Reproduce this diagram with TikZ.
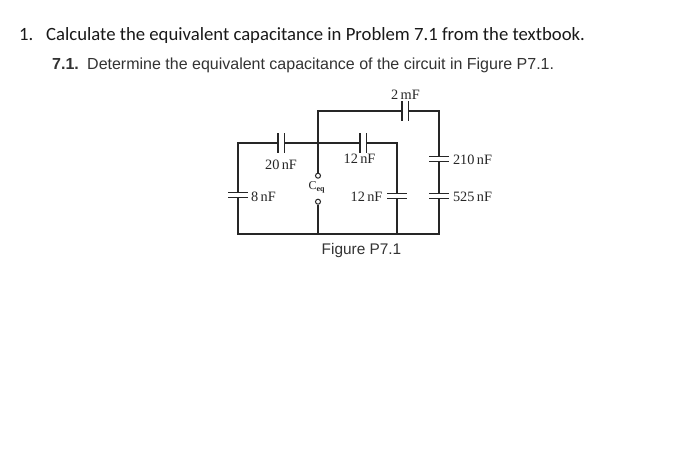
\documentclass[tikz,border=0pt]{standalone}
\usepackage{fontspec}
\setmainfont{Liberation Serif}
\newfontfamily\bodyfont{Carlito}
\newfontfamily\helv{Liberation Sans}
\tikzset{
  wire/.style={line width=1.4pt,color=black!85},
  plate/.style={line width=1.4pt,color=black!85},
  hcap/.style={rectangle,inner sep=0pt,minimum width=6pt,minimum height=19pt},
  vcap/.style={rectangle,inner sep=0pt,minimum width=19pt,minimum height=5pt},
  term/.style={circle,draw=black!85,line width=1pt,fill=white,inner sep=0pt,minimum size=5pt},
  val/.style={inner sep=0pt,font=\fontsize{14.3}{16}\selectfont,color=black!85},
  head/.style={inner sep=0pt,anchor=base west,font=\bodyfont\fontsize{18.7}{22}\selectfont,color=black!90},
  sub/.style={inner sep=0pt,anchor=base west,font=\helv\fontsize{16}{18}\selectfont,color=black!80}
}
\begin{document}
\begin{tikzpicture}[x=1pt,y=-1pt]
\useasboundingbox[fill=white] (0,0) rectangle (700,455);
\node[head] (num) at (19,40) {1.};
\node[head] (line1) at (46,40) {Calculate the equivalent capacitance in Problem 7.1 from the textbook.};
\node[sub] (num2) at (52,69.5) {\textbf{7.1.}};
\node[sub] (line2) at (87,69.5) {Determine the equivalent capacitance of the circuit in Figure P7.1.};
% junctions
\coordinate (tl) at (238,143);
\coordinate (bl) at (238,234);
\coordinate (top) at (318,111);
\coordinate (mid) at (318,143);
\coordinate (bot) at (318,234);
\coordinate (mr) at (397,143);
\coordinate (mb) at (397,234);
\coordinate (tr) at (439,111);
\coordinate (br) at (439,234);
% capacitors
\node[hcap] (c2m) at (405,111) {};
\node[hcap] (c20) at (281,143) {};
\node[hcap] (c12a) at (363,143) {};
\node[vcap] (c8) at (238,195) {};
\node[vcap] (c12b) at (397,196) {};
\node[vcap] (c210) at (439,159) {};
\node[vcap] (c525) at (439,196) {};
\foreach \c in {c2m,c20,c12a}
  \draw[plate] (\c.north west) -- (\c.south west) (\c.north east) -- (\c.south east);
\foreach \c in {c8,c12b,c210,c525}
  \draw[plate] (\c.north west) -- (\c.north east) (\c.south west) -- (\c.south east);
% terminals
\node[term] (t1) at (318,175.7) {};
\node[term] (t2) at (318,201.7) {};
% wires
\draw[wire] (c8.north) -- (tl) -- (c20.west);
\draw[wire] (c20.east) -- (mid) -- (c12a.west);
\draw[wire] (c12a.east) -- (mr) -- (c12b.north);
\draw[wire] (c12b.south) -- (mb);
\draw[wire] (c8.south) -- (bl) -- (br) -- (c525.south);
\draw[wire] (c525.north) -- (c210.south);
\draw[wire] (c210.north) -- (tr) -- (c2m.east);
\draw[wire] (c2m.west) -- (top) -- (mid) -- (t1.north);
\draw[wire] (t2.south) -- (bot);
% labels
\node[val] (l2m) at (405.5,95) {2\,mF};
\node[val] (l20) at (281,164.5) {20\,nF};
\node[val] (l12a) at (359.5,158.5) {12\,nF};
\node[val] (l8) at (263.5,197) {8\,nF};
\node[val] (l12b) at (366.5,197) {12\,nF};
\node[val] (l210) at (472.5,160) {210\,nF};
\node[val] (l525) at (472.5,197) {525\,nF};
\node[val,font=\fontsize{12}{13}\selectfont] (ceq) at (316.5,187.5) {C\raisebox{-1.5pt}{\fontsize{8}{9}\selectfont\textbf{eq}}};
\node[inner sep=0pt,font=\helv\fontsize{15.4}{18}\selectfont,color=black!80] (fig) at (361.5,250.5) {Figure P7.1};
\end{tikzpicture}
\end{document}
